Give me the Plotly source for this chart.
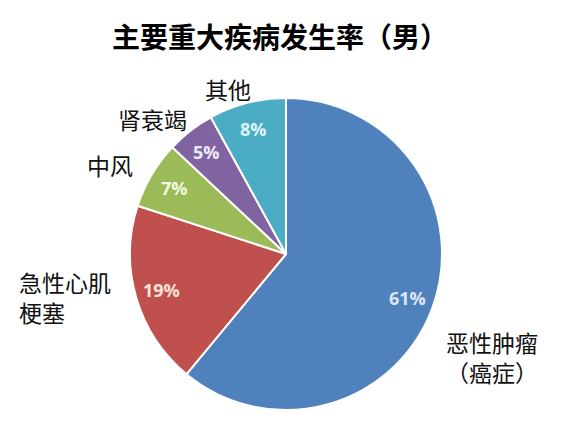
import numpy as np
import plotly.graph_objects as go

# ---- data ----
categories = ["恶性肿瘤<br>（癌症）", "急性心肌<br>梗塞", "中风", "肾衰竭", "其他"]
values = [61, 19, 7, 5, 8]
pct_labels = ["61%", "19%", "7%", "5%", "8%"]

colors = ["#4F81BD", "#C0504D", "#9BBB59", "#8064A2", "#4BACC6"]
pct_colors = ["#DCE7F4", "#FBE4DA", "#F4F8E2", "#EEE8F6", "#DDF3F9"]

W, H = 562, 433
cx, cy, R = 286, 254, 156

fig = go.Figure(go.Pie(
    labels=categories,
    values=values,
    sort=False,
    direction="clockwise",
    rotation=0,
    marker=dict(colors=colors, line=dict(color="white", width=2)),
    textinfo="none",
    hoverinfo="label+percent",
    domain=dict(x=[(cx - R) / W, (cx + R) / W], y=[(H - cy - R) / H, (H - cy + R) / H]),
    showlegend=False,
))

# percentage labels at mid-angle of each slice
vals = np.array(values, dtype=float)
cum = np.cumsum(vals) - vals / 2
ang = cum / vals.sum() * 2 * np.pi
annotations = []
for a, t, c in zip(ang, pct_labels, pct_colors):
    rr = 0.83 * R
    px = cx + rr * np.sin(a)
    py = cy - rr * np.cos(a)
    annotations.append(dict(
        x=px / W, y=(H - py) / H, xref="paper", yref="paper",
        text=f"<b>{t}</b>", showarrow=False,
        font=dict(family="Open Sans, Noto Sans", size=18, color=c),
        xanchor="center", yanchor="middle",
    ))

# category labels (outside)
label_pos = [
    (444, 357, "left"),
    (17, 297, "left"),
    (110, 165, "center"),
    (152, 119, "center"),
    (228, 89, "center"),
]
for (lx, ly, anc), txt in zip(label_pos, categories):
    annotations.append(dict(
        x=lx / W, y=(H - ly) / H, xref="paper", yref="paper",
        text=txt, showarrow=False, align="left",
        font=dict(family="Noto Sans CJK SC", size=23, color="#111111"),
        xanchor=anc, yanchor="middle",
    ))

fig.update_layout(
    width=W, height=H,
    margin=dict(l=0, r=0, t=0, b=0),
    paper_bgcolor="white",
    plot_bgcolor="white",
    title=dict(
        text="<b>主要重大疾病发生率（男）</b>",
        x=280 / W, xanchor="center",
        y=(H - 38) / H, yanchor="middle",
        font=dict(family="Noto Sans CJK SC", size=28, color="#000000"),
    ),
    annotations=annotations,
)

fig.write_html("out.html")
